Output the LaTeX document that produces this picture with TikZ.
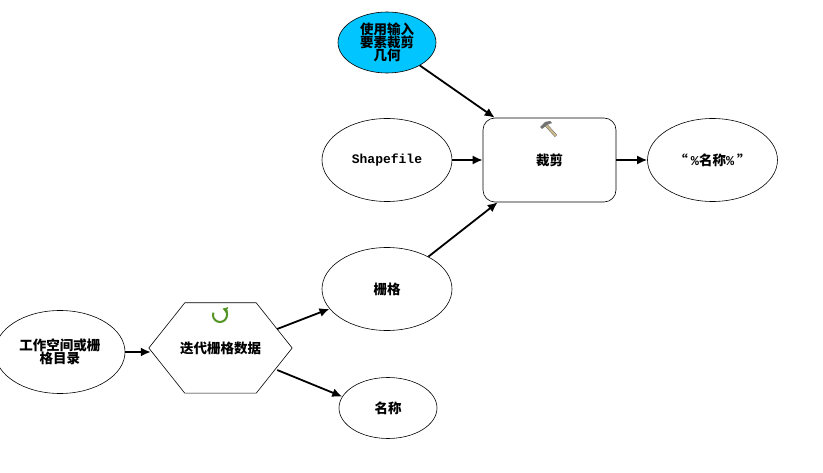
\documentclass[tikz,border=0pt]{standalone}
\usepackage{fontspec}
\setmainfont{Noto Sans CJK SC}
\setmonofont{Liberation Mono}
\usetikzlibrary{arrows.meta,shapes.geometric}
\definecolor{inputblue}{RGB}{0,197,255}
\definecolor{loopgreen}{RGB}{84,148,36}
\definecolor{handletan}{RGB}{205,186,140}
\tikzset{
  flow/.style={-{Latex[length=10pt,width=9pt]}, line width=1.8pt},
  databox/.style={ellipse, draw, line width=0.6pt, inner sep=0pt, align=center, font=\bfseries\fontsize{13.5}{13.3}\selectfont},
  bigdata/.style={databox, minimum width=130pt, minimum height=83pt},
  smalldata/.style={databox, minimum width=98pt, minimum height=61pt},
  toolbox/.style={rectangle, rounded corners=12pt, draw, line width=0.6pt, minimum width=133pt, minimum height=84pt, font=\bfseries\fontsize{13.5}{13.3}\selectfont},
  hexbox/.style={rectangle, minimum width=143pt, minimum height=90pt, inner sep=0pt, font=\bfseries\fontsize{13.5}{13.3}\selectfont},
}
\begin{document}
\begin{tikzpicture}[x=1pt, y=-1pt]
  \useasboundingbox (0,0) rectangle (823,473);
  \node[smalldata, fill=inputblue] (clipin) at (387,42.5) {使用输入\\要素裁剪\\几何};
  \node[bigdata] (shp) at (387,160) {\ttfamily\fontsize{13}{13}\selectfont Shapefile};
  \node[toolbox] (clip) at (549.5,160) {裁剪};
  \node[bigdata] (out) at (712.5,160) {“\hspace{3pt}\texttt{\%}名称\texttt{\%}\hspace{3pt}”};
  \node[bigdata] (raster) at (387,289) {栅格};
  \node[smalldata] (name) at (388,408) {名称};
  \node[bigdata] (work) at (60,352) {工作空间或栅\\格目录};
  \node[hexbox] (iter) at (220.5,348) {\raisebox{-1pt}{迭代栅格数据}};
  \draw[line width=0.6pt] (iter.west) -- ([xshift=36pt]iter.north west) -- ([xshift=-36pt]iter.north east)
    -- (iter.east) -- ([xshift=-36pt]iter.south east) -- ([xshift=36pt]iter.south west) -- cycle;
  % connectors
  \draw[flow] (clipin.-35) -- ([xshift=12pt]clip.north west);
  \draw[flow] (shp.east) -- (clip.west);
  \draw[flow] (clip.east) -- (out.west);
  \draw[flow] (raster.38) -- ([xshift=15pt]clip.south west);
  \draw[flow] (work.east) -- ([xshift=2pt]iter.west |- work.east);
  \draw[flow] ([shift={(-15pt,19pt)}]iter.east) -- (raster.199);
  \draw[flow] ([shift={(-15pt,-22pt)}]iter.east) -- (name.166);
  % hammer
  \draw[black!60, line width=3pt] (546,125) -- (556,136);
  \draw[handletan, line width=2pt] (546,125) -- (556,136);
  \fill[black!55] (540,127) -- (545,122) -- (550,121) -- (552,123) -- (547,125) -- (542,129) -- cycle;
  % loop
  \draw[loopgreen, line width=2pt, -{Latex[length=5pt,width=7pt]}] (213.4,312.6) arc[start angle=160, end angle=430, radius=7pt];
\end{tikzpicture}
\end{document}
